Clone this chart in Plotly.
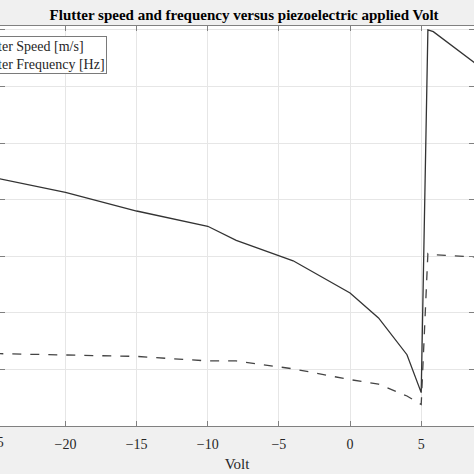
import plotly.graph_objects as go

volt = [-25, -20, -15, -10, -8, -4, 0, 2, 4, 5, 5.47, 5.85, 8.7, 10]
speed = [43.9, 41.3, 38.0, 35.3, 32.8, 29.2, 23.5, 19.1, 12.6, 5.9, 70.0, 69.7, 64.3, 61.6]
freq = [12.8, 12.5, 12.3, 11.5, 11.5, 10.1, 8.2, 7.4, 5.3, 3.8, 30.5, 30.3, 29.9, 29.7]
names = ["Flutter Speed [m/s]", "Flutter Frequency [Hz]"]

x_range = [-24.6, 8.71]
y_range = [0, 70.7]
x_ticks = [-25, -20, -15, -10, -5, 0, 5, 10]
y_ticks = [0, 10, 20, 30, 40, 50, 60, 70]

serif = "Liberation Serif"

fig = go.Figure()
fig.add_trace(go.Scatter(x=volt, y=speed, mode="lines", name=names[0], showlegend=False,
                         line=dict(color="#333333", width=1.3)))
fig.add_trace(go.Scatter(x=volt, y=freq, mode="lines", name=names[1], showlegend=False,
                         line=dict(color="#444444", width=1.3, dash="dash")))

fig.update_layout(
    width=474, height=474,
    margin=dict(l=0, r=0, t=26, b=48, autoexpand=False),
    paper_bgcolor="#f0f0f0",
    plot_bgcolor="white",
    font=dict(family=serif, size=14, color="#262626"),
    title=dict(text="<b>Flutter speed and frequency versus piezoelectric applied Volt</b>",
               x=0.515, xanchor="center", y=0.968, yanchor="middle",
               font=dict(family=serif, size=15, color="black")),
    xaxis=dict(range=x_range, tickvals=x_ticks, showgrid=True, gridcolor="#e6e6e6",
               zeroline=False, showline=True, linecolor="#808080", linewidth=1,
               mirror="ticks", ticks="inside", ticklen=5, tickcolor="#808080",
               ticklabelstandoff=5,
               title=dict(text="Volt", font=dict(family=serif, size=15, color="#262626"), standoff=7),
               tickfont=dict(family=serif, size=14, color="#262626")),
    yaxis=dict(range=y_range, tickvals=y_ticks, showgrid=True, gridcolor="#e6e6e6",
               zeroline=False, showline=True, linecolor="#808080", mirror="ticks",
               ticks="inside", ticklen=5, tickcolor="#808080", showticklabels=False),
)

# legend box (its left part, with the line samples, lies beyond the left edge)
fig.add_annotation(text="<br>".join(names), xref="paper", yref="paper",
                   x=0.2264, y=0.975, xanchor="right", yanchor="top", align="left",
                   showarrow=False, bgcolor="white", bordercolor="#7a7a7a", borderwidth=1,
                   borderpad=1.5, font=dict(family=serif, size=14, color="#262626"))

# partially visible -25 tick label at the left edge
fig.add_annotation(text="-25", xref="paper", yref="paper",
                   x=(x_ticks[0] - x_range[0]) / (x_range[1] - x_range[0]), y=0,
                   xanchor="center", yanchor="top", yshift=-7, showarrow=False,
                   font=dict(family=serif, size=14, color="#262626"))

fig.write_html("out.html")
